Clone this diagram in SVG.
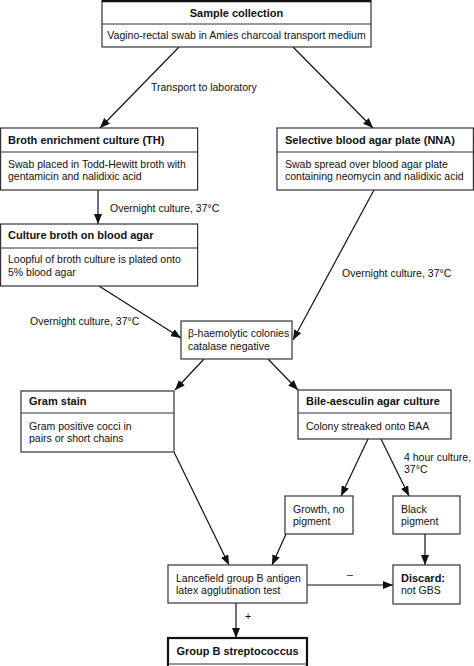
<svg xmlns="http://www.w3.org/2000/svg" width="474" height="666" viewBox="0 0 474 666">
<style>
.box{fill:#fff;stroke:#333;stroke-width:1.2}
.thick{fill:#fff;stroke:#111;stroke-width:2.2}
.div{stroke:#333;stroke-width:1.2}
text{font-family:"Liberation Sans",Arial,sans-serif;font-size:10.5px;fill:#111}
.b{font-weight:bold;font-size:11px}
.c{text-anchor:middle}
.con line{stroke:#111;stroke-width:1.2;marker-end:url(#ah)}
</style>
<defs>
<marker id="ah" markerUnits="userSpaceOnUse" markerWidth="10" markerHeight="8" refX="10" refY="4" orient="auto">
<path d="M0,0 L10,4 L0,8 Z" fill="#111"/>
</marker>
</defs>
<rect width="474" height="666" fill="#fff"/>
<g class="con">
<line x1="179" y1="47" x2="100" y2="128"/>
<line x1="293" y1="47" x2="373" y2="128"/>
<line x1="98" y1="190" x2="98" y2="224"/>
<line x1="99" y1="286" x2="181" y2="338"/>
<line x1="374" y1="190" x2="293" y2="340"/>
<line x1="204" y1="359" x2="175" y2="390"/>
<line x1="268" y1="359" x2="298" y2="390"/>
<line x1="368" y1="439" x2="341" y2="496"/>
<line x1="381" y1="439" x2="409" y2="496"/>
<line x1="174" y1="452" x2="229" y2="565"/>
<line x1="286" y1="534" x2="272" y2="565"/>
<line x1="425" y1="534" x2="425" y2="565"/>
<line x1="307" y1="585" x2="393" y2="585"/>
<line x1="236" y1="603" x2="236" y2="638"/>
<text x="151" y="91">Transport to laboratory</text>
<text x="110" y="212">Overnight culture, 37°C</text>
<text x="342" y="277">Overnight culture, 37°C</text>
<text x="30" y="325">Overnight culture, 37°C</text>
<text x="404" y="461">4 hour culture,</text>
<text x="404" y="473">37°C</text>
<text x="347" y="578">–</text>
<text x="245" y="620">+</text>
</g>
<g id="sample">
<rect class="box" x="102" y="0" width="269" height="47"/>
<line x1="102" y1="1" x2="371" y2="1" stroke="#111" stroke-width="2.5"/>
<line class="div" x1="102" y1="24" x2="371" y2="24"/>
<text class="b c" x="236.5" y="17">Sample collection</text>
<text class="c" x="236.5" y="39">Vagino-rectal swab in Amies charcoal transport medium</text>
</g>
<g id="broth">
<rect class="box" x="0.6" y="128" width="197" height="62"/>
<line class="div" x1="0" y1="152" x2="198" y2="152"/>
<text class="b" x="8" y="144">Broth enrichment culture (TH)</text>
<text x="8" y="168">Swab placed in Todd-Hewitt broth with</text>
<text x="8" y="180">gentamicin and nalidixic acid</text>
</g>
<g id="nna">
<rect class="box" x="277" y="128" width="196.4" height="62"/>
<line class="div" x1="277" y1="152" x2="474" y2="152"/>
<text class="b" x="285" y="144">Selective blood agar plate (NNA)</text>
<text x="285" y="168">Swab spread over blood agar plate</text>
<text x="285" y="180">containing neomycin and nalidixic acid</text>
</g>
<g id="culture">
<rect class="box" x="0.6" y="224" width="197" height="62"/>
<line class="div" x1="0" y1="248" x2="198" y2="248"/>
<text class="b" x="8" y="239">Culture broth on blood agar</text>
<text x="8" y="263">Loopful of broth culture is plated onto</text>
<text x="8" y="276">5% blood agar</text>
</g>
<g id="beta">
<rect class="box" x="181" y="321" width="111" height="38"/>
<text x="188" y="337">β-haemolytic colonies</text>
<text x="188" y="350">catalase negative</text>
</g>
<g id="gram">
<rect class="box" x="21" y="391" width="153" height="61"/>
<line class="div" x1="21" y1="413" x2="174" y2="413"/>
<text class="b" x="29" y="405">Gram stain</text>
<text x="29" y="430">Gram positive cocci in</text>
<text x="29" y="442">pairs or short chains</text>
</g>
<g id="bile">
<rect class="box" x="298" y="390" width="153" height="49"/>
<line class="div" x1="298" y1="413" x2="451" y2="413"/>
<text class="b" x="306" y="405">Bile-aesculin agar culture</text>
<text x="306" y="430">Colony streaked onto BAA</text>
</g>
<g id="growth">
<rect class="box" x="285" y="496" width="68" height="38"/>
<text x="293" y="513">Growth, no</text>
<text x="293" y="525">pigment</text>
</g>
<g id="black">
<rect class="box" x="393" y="496" width="67" height="38"/>
<text x="401" y="513">Black</text>
<text x="401" y="525">pigment</text>
</g>
<g id="lancefield">
<rect class="box" x="168" y="565" width="139" height="38"/>
<text x="176" y="582">Lancefield group B antigen</text>
<text x="176" y="594">latex agglutination test</text>
</g>
<g id="discard">
<rect class="box" x="393" y="565" width="67" height="39"/>
<text class="b" x="401" y="582">Discard:</text>
<text x="401" y="594">not GBS</text>
</g>
<g id="gbs">
<rect class="thick" x="168" y="638" width="139" height="40"/>
<line class="div" x1="168" y1="664" x2="307" y2="664"/>
<text class="b c" x="237.5" y="655">Group B streptococcus</text>
</g>
</svg>
